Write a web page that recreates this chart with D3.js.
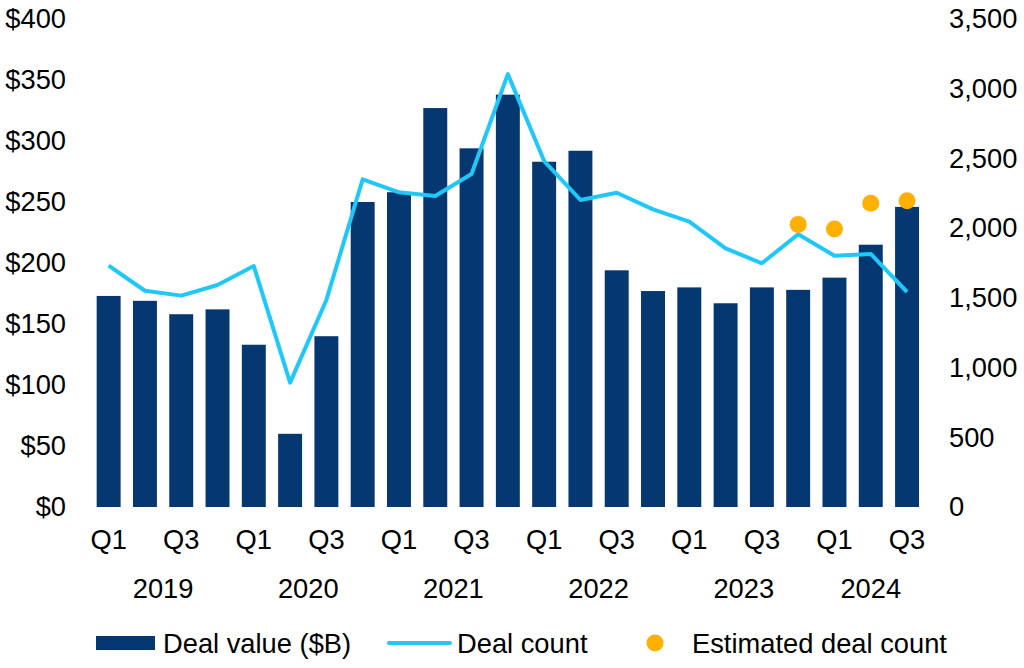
<!DOCTYPE html>
<html>
<head>
<meta charset="utf-8">
<script src="https://cdn.jsdelivr.net/npm/d3@7"></script>
<style>
  html, body { margin: 0; padding: 0; background: #fff; }
  svg text { font-family: "Liberation Sans", Arial, sans-serif; fill: #000; }
</style>
</head>
<body>
<svg id="chart" width="1024" height="668"></svg>
<script>
// quarters 2019 Q1 .. 2024 Q3
var years = ['2019', '2020', '2021', '2022', '2023', '2024'];
var quarters = [];
years.forEach(function(y) {
  ['Q1', 'Q2', 'Q3', 'Q4'].forEach(function(q) {
    if (!(y === '2024' && q === 'Q4')) quarters.push(y + ' ' + q);
  });
});

var dealValue = [173, 169, 158, 162, 133, 60, 140, 250, 258, 327, 294, 338,
                 283, 292, 194, 177, 180, 167, 180, 178, 188, 215, 246];
var dealCount = [1731, 1551, 1516, 1592, 1728, 892, 1485, 2350, 2257, 2230, 2388, 3105,
                 2481, 2202, 2254, 2135, 2046, 1855, 1748, 1956, 1802, 1815, 1542];
var estQuarters = ['2023 Q4', '2024 Q1', '2024 Q2', '2024 Q3'];
var estCount = [2027, 1994, 2178, 2197];

var valueTicks = [0, 50, 100, 150, 200, 250, 300, 350, 400];
var countTicks = [0, 500, 1000, 1500, 2000, 2500, 3000, 3500];

var App = {};
App.colors = { bar: '#053771', line: '#1fc8f8', est: '#ffb000' };
App.fontSize = 27.3;

App.main = function() {
  App.svg = d3.select('#chart');

  App.x = d3.scaleBand()
    .domain(quarters)
    .range([90.5, 925.2])
    .paddingInner(0.34)
    .paddingOuter(0.17);
  App.yL = d3.scaleLinear().domain([0, 400]).range([507, 19]);
  App.yR = d3.scaleLinear().domain([0, 3500]).range([507, 19]);

  App.cx = function(q) { return App.x(q) + App.x.bandwidth() / 2; };

  App.initAxes();
  App.initBars();
  App.initLine();
  App.initLegend();
}

App.initAxes = function() {
  var left = App.svg.append('g')
    .attr('transform', 'translate(66,0)')
    .call(d3.axisLeft(App.yL).tickValues(valueTicks)
      .tickFormat(function(d) { return '$' + d; })
      .tickSize(0).tickPadding(0));

  var right = App.svg.append('g')
    .attr('transform', 'translate(949,0)')
    .call(d3.axisRight(App.yR).tickValues(countTicks)
      .tickFormat(d3.format(',')).tickSize(0).tickPadding(0));

  var bottom = App.svg.append('g')
    .attr('transform', 'translate(0,530)')
    .call(d3.axisBottom(App.x)
      .tickValues(quarters.filter(function(q) { return /Q1|Q3/.test(q); }))
      .tickFormat(function(q) { return q.split(' ')[1]; })
      .tickSize(0).tickPadding(0));

  [left, right, bottom].forEach(function(g) {
    g.select('.domain').remove();
    g.selectAll('text')
      .style('font-size', App.fontSize + 'px')
      .attr('fill', '#000');
  });
  bottom.selectAll('text').attr('dy', '0.71em');

  App.svg.append('g').selectAll('text').data(years)
    .enter().append('text')
    .attr('x', function(y) {
      var qs = quarters.filter(function(q) { return q.indexOf(y) === 0; });
      return d3.mean(qs, App.cx);
    })
    .attr('y', 598)
    .attr('text-anchor', 'middle')
    .style('font-size', App.fontSize + 'px')
    .text(function(y) { return y; });
}

App.initBars = function() {
  App.svg.append('g').selectAll('rect').data(dealValue)
    .enter().append('rect')
    .attr('x', function(d, i) { return App.x(quarters[i]); })
    .attr('y', function(d) { return App.yL(d); })
    .attr('width', App.x.bandwidth())
    .attr('height', function(d) { return App.yL(0) - App.yL(d); })
    .attr('fill', App.colors.bar);
}

App.initLine = function() {
  var line = d3.line()
    .x(function(d, i) { return App.cx(quarters[i]); })
    .y(function(d) { return App.yR(d); });

  App.svg.append('path')
    .datum(dealCount)
    .attr('d', line)
    .attr('fill', 'none')
    .attr('stroke', App.colors.line)
    .attr('stroke-width', 4)
    .attr('stroke-linejoin', 'round');

  App.svg.append('g').selectAll('circle').data(estCount)
    .enter().append('circle')
    .attr('cx', function(d, i) { return App.cx(estQuarters[i]); })
    .attr('cy', function(d) { return App.yR(d); })
    .attr('r', 8.5)
    .attr('fill', App.colors.est);
}

App.initLegend = function() {
  var g = App.svg.append('g').attr('transform', 'translate(0,643)');
  var fs = App.fontSize + 'px';

  g.append('rect').attr('x', 96).attr('y', -7).attr('width', 59).attr('height', 14)
    .attr('fill', App.colors.bar);
  g.append('text').attr('x', 163).attr('dy', '0.35em').style('font-size', fs)
    .text('Deal value ($B)');

  g.append('line').attr('x1', 389).attr('x2', 450).attr('y1', 0).attr('y2', 0)
    .attr('stroke', App.colors.line).attr('stroke-width', 4).attr('stroke-linecap', 'round');
  g.append('text').attr('x', 457).attr('dy', '0.35em').style('font-size', fs)
    .text('Deal count');

  g.append('circle').attr('cx', 655).attr('cy', 0).attr('r', 8.5)
    .attr('fill', App.colors.est);
  g.append('text').attr('x', 692).attr('dy', '0.35em').style('font-size', fs)
    .text('Estimated deal count');
}

App.main();
</script>
</body>
</html>
